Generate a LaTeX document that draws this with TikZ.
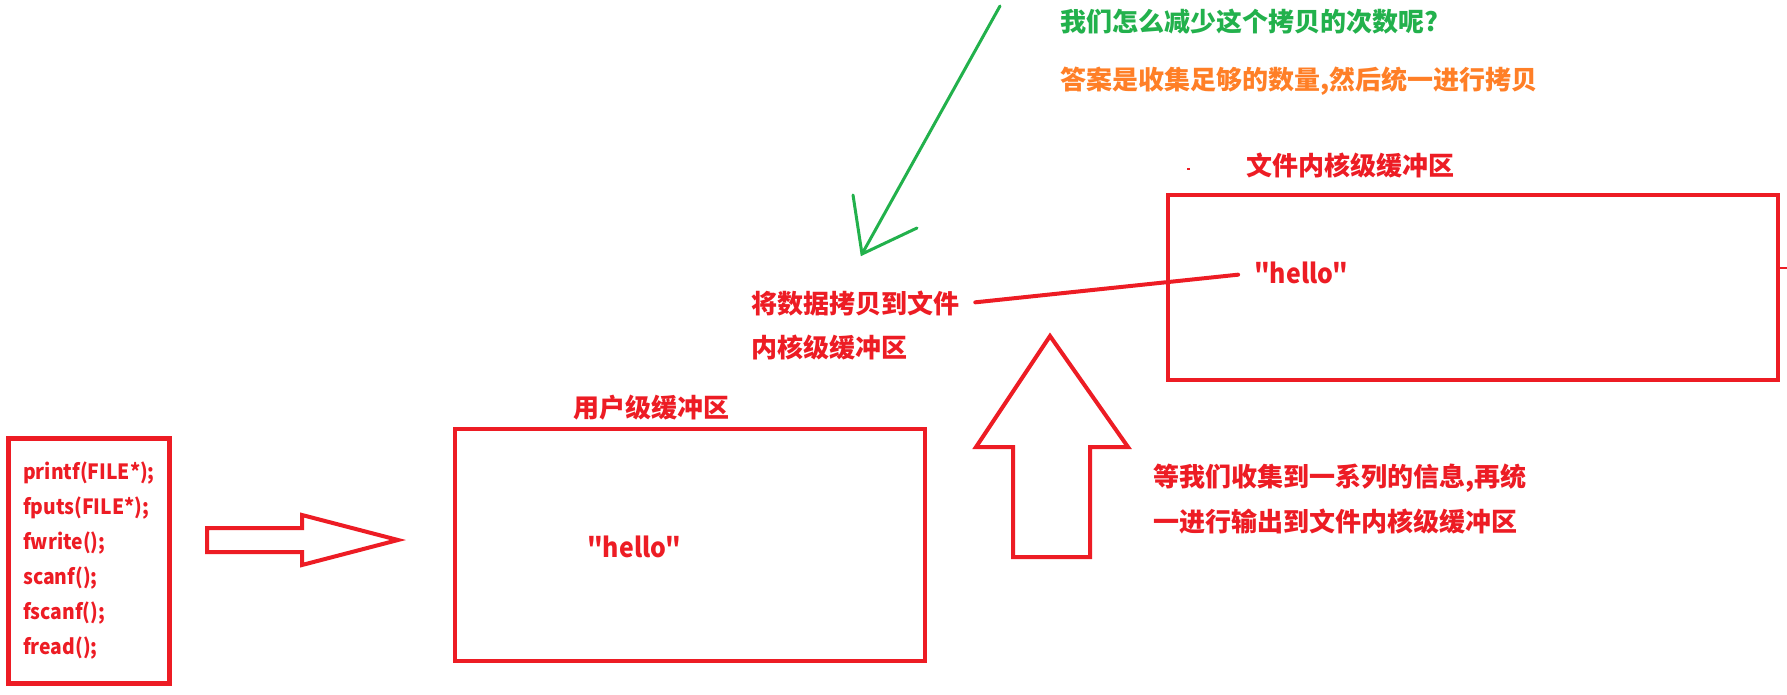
\documentclass[tikz,border=0pt]{standalone}
\usepackage{fontspec}
\setmainfont{Noto Sans CJK SC}[Ligatures=TeXOff]
\newfontfamily\narrowfont{Noto Sans CJK SC}[Ligatures=TeXOff, FakeStretch=0.92]
\usetikzlibrary{positioning}
\definecolor{paintred}{HTML}{ED1C24}
\definecolor{paintgreen}{HTML}{22B14C}
\definecolor{paintorange}{HTML}{FF7F27}

\begin{document}
\begin{tikzpicture}
[
	x=1pt, y=-1pt,
	redbox/.style={draw=paintred,line width=4.5pt,inner sep=0pt},
	redline/.style={draw=paintred,line width=4pt},
	greenline/.style={draw=paintgreen,line width=3pt,line cap=round},
	cjklabel/.style={anchor=west,inner sep=0pt,font=\bfseries\fontsize{26}{26}\selectfont},
	hellotxt/.style={anchor=west,inner sep=0pt,text=paintred,font=\narrowfont\bfseries\fontsize{27}{27}\selectfont}
]

	% canvas
	\fill[white] (0,0) rectangle (1787,695);
	\useasboundingbox (0,0) rectangle (1787,695);

	% function calls
	\node[redbox, line width=5pt, minimum width=161pt, minimum height=245pt, align=left,
		text=paintred, font=\narrowfont\bfseries\fontsize{21}{35}\selectfont] (calls) at (89,561)
		{printf(FILE*);\\fputs(FILE*);\\fwrite();\\scanf();\\fscanf();\\fread();};

	% hollow arrow to the user buffer
	\draw[redline] (207,528) -- (302,528) -- (302,515) -- (398,540) -- (302,565) -- (302,552) -- (207,552) -- cycle;

	% user buffer
	\node[redbox, minimum width=470pt, minimum height=232pt] (ubuf) at (690,545) {};
	\node[cjklabel, text=paintred] (ubuflbl) at (573,408) {用户级缓冲区};
	\node[hellotxt] (uhello) at (587,547) {"hello"};

	% kernel buffer
	\node[redbox, line width=4pt, minimum width=610pt, minimum height=185pt] (kbuf) at (1473,287.5) {};
	\node[cjklabel, text=paintred] (kbuflbl) at (1246,166) {文件内核级缓冲区};
	\node[hellotxt] (khello) at (1254,273) {"hello"};
	\draw[paintred, line width=2pt] (1187,169) -- (1190,169);
	\draw[paintred, line width=2.5pt] (1780,268) -- (1787,268);

	% copy into kernel buffer
	\node[cjklabel, text=paintred] (copy1) at (751,304) {将数据拷贝到文件};
	\node[cjklabel, text=paintred] (copy2) at (751,348) {内核级缓冲区};
	\draw[redline, line cap=round, shorten <=16pt, shorten >=16pt] (copy1.east) -- (khello.west);

	% hollow arrow up
	\draw[redline] (1050,336) -- (1128,447) -- (1090,447) -- (1090,557) -- (1013,557) -- (1013,447) -- (976,447) -- cycle;
	\node[cjklabel, text=paintred] (gather1) at (1153,478) {等我们收集到一系列的信息,再统};
	\node[cjklabel, text=paintred] (gather2) at (1153,522) {一进行输出到文件内核级缓冲区};

	% question and answer
	\node[cjklabel, text=paintgreen] (ask) at (1060,22) {我们怎么减少这个拷贝的次数呢?};
	\node[cjklabel, text=paintorange] (answer) at (1060,81) {答案是收集足够的数量,然后统一进行拷贝};

	% green arrow
	\coordinate (gtop) at (1000,6);
	\coordinate (gtip) at (862,254);
	\coordinate (gbarbl) at (853,195);
	\coordinate (gbarbr) at (917,228);
	\draw[greenline] (gtop) -- (gtip);
	\draw[greenline] (gbarbl) -- (gtip) -- (gbarbr);

\end{tikzpicture}
\end{document}
